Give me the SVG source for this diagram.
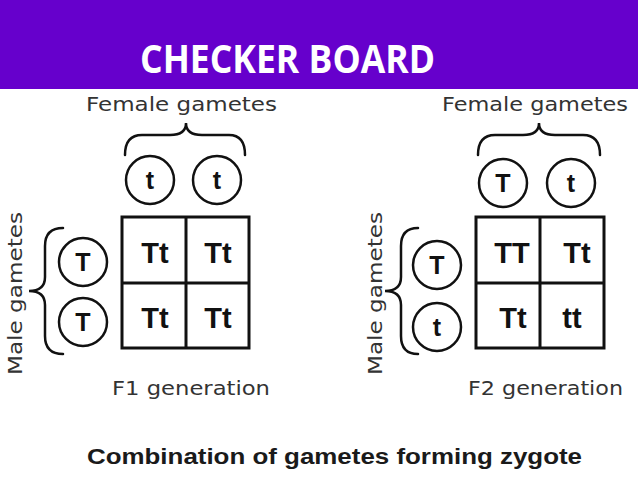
<svg xmlns="http://www.w3.org/2000/svg" width="638" height="478" viewBox="0 0 638 478">
<style>
.lbl{font-family:"DejaVu Sans","Liberation Sans",sans-serif;font-size:20px;fill:#333}
.cell{font-family:"Liberation Sans",Arial,sans-serif;font-weight:bold;font-size:29px;fill:#111;text-anchor:middle}
.gam{font-family:"Liberation Sans",Arial,sans-serif;font-weight:bold;font-size:25px;fill:#111;text-anchor:middle}
.circ{fill:#fff;stroke:#111;stroke-width:2.5}
.brace{fill:none;stroke:#111;stroke-width:2.5;stroke-linecap:round}
.grid{fill:#fff;stroke:#111;stroke-width:3}
</style>
<rect x="0" y="0" width="638" height="478" fill="#fff"/>
<g id="header">
<rect x="0" y="0" width="638" height="89" fill="#6600cc"/>
<text x="140" y="73" font-family="'Open Sans','Liberation Sans',sans-serif" font-weight="bold" font-size="39" fill="#fff" textLength="295" lengthAdjust="spacingAndGlyphs">CHECKER BOARD</text>
</g>
<g id="f1">
<text class="lbl" x="86" y="111" textLength="191" lengthAdjust="spacingAndGlyphs">Female gametes</text>
<path class="brace" d="M125,155 Q125,135 142,135 L170,135 Q186,135 186,123 Q186,135 202,135 L229,135 Q245,135 245,155"/>
<g id="f1-female-t1"><circle class="circ" cx="150" cy="180" r="24"/><text class="gam" x="150" y="189">t</text></g>
<g id="f1-female-t2"><circle class="circ" cx="217" cy="180" r="24"/><text class="gam" x="217" y="189">t</text></g>
<text class="lbl" transform="translate(22,375) rotate(-90)" textLength="163" lengthAdjust="spacingAndGlyphs">Male gametes</text>
<path class="brace" d="M63,228 Q45,228 45,246 L45,277 Q45,291 29,291 Q45,291 45,305 L45,336 Q45,354 63,354"/>
<g id="f1-male-T1"><circle class="circ" cx="83" cy="262" r="24"/><text class="gam" x="83" y="271">T</text></g>
<g id="f1-male-T2"><circle class="circ" cx="83" cy="322" r="24"/><text class="gam" x="83" y="331">T</text></g>
<g id="f1-grid">
<rect class="grid" x="122" y="217" width="127" height="131"/>
<line x1="186" y1="217" x2="186" y2="348" stroke="#111" stroke-width="3"/>
<line x1="122" y1="283" x2="249" y2="283" stroke="#111" stroke-width="3"/>
<text class="cell" x="155" y="263">Tt</text>
<text class="cell" x="218" y="263">Tt</text>
<text class="cell" x="155" y="328">Tt</text>
<text class="cell" x="218" y="328">Tt</text>
</g>
<text class="lbl" x="112" y="395" textLength="158" lengthAdjust="spacingAndGlyphs">F1 generation</text>
</g>
<g id="f2">
<text class="lbl" x="442" y="111" textLength="186" lengthAdjust="spacingAndGlyphs">Female gametes</text>
<path class="brace" d="M478,155 Q478,135 495,135 L523,135 Q539,135 539,123 Q539,135 555,135 L583,135 Q600,135 600,155"/>
<g id="f2-female-T"><circle class="circ" cx="503" cy="183" r="24"/><text class="gam" x="503" y="192">T</text></g>
<g id="f2-female-t"><circle class="circ" cx="571" cy="183" r="24"/><text class="gam" x="571" y="192">t</text></g>
<text class="lbl" transform="translate(382,375) rotate(-90)" textLength="163" lengthAdjust="spacingAndGlyphs">Male gametes</text>
<path class="brace" d="M418,228 Q401,228 401,246 L401,277 Q401,291 385,291 Q401,291 401,305 L401,336 Q401,354 418,354"/>
<g id="f2-male-T"><circle class="circ" cx="437" cy="265" r="24"/><text class="gam" x="437" y="274">T</text></g>
<g id="f2-male-t"><circle class="circ" cx="437" cy="327" r="24"/><text class="gam" x="437" y="336">t</text></g>
<g id="f2-grid">
<rect class="grid" x="476" y="217" width="128" height="131"/>
<line x1="540" y1="217" x2="540" y2="348" stroke="#111" stroke-width="3"/>
<line x1="476" y1="283" x2="604" y2="283" stroke="#111" stroke-width="3"/>
<text class="cell" x="512" y="263">TT</text>
<text class="cell" x="577" y="263">Tt</text>
<text class="cell" x="513" y="328">Tt</text>
<text class="cell" x="572" y="328">tt</text>
</g>
<text class="lbl" x="468" y="395" textLength="155" lengthAdjust="spacingAndGlyphs">F2 generation</text>
</g>
<text x="87" y="464" font-family="'Liberation Sans',Arial,sans-serif" font-weight="bold" font-size="22" fill="#1a1a1a" textLength="495" lengthAdjust="spacingAndGlyphs">Combination of gametes forming zygote</text>
</svg>
